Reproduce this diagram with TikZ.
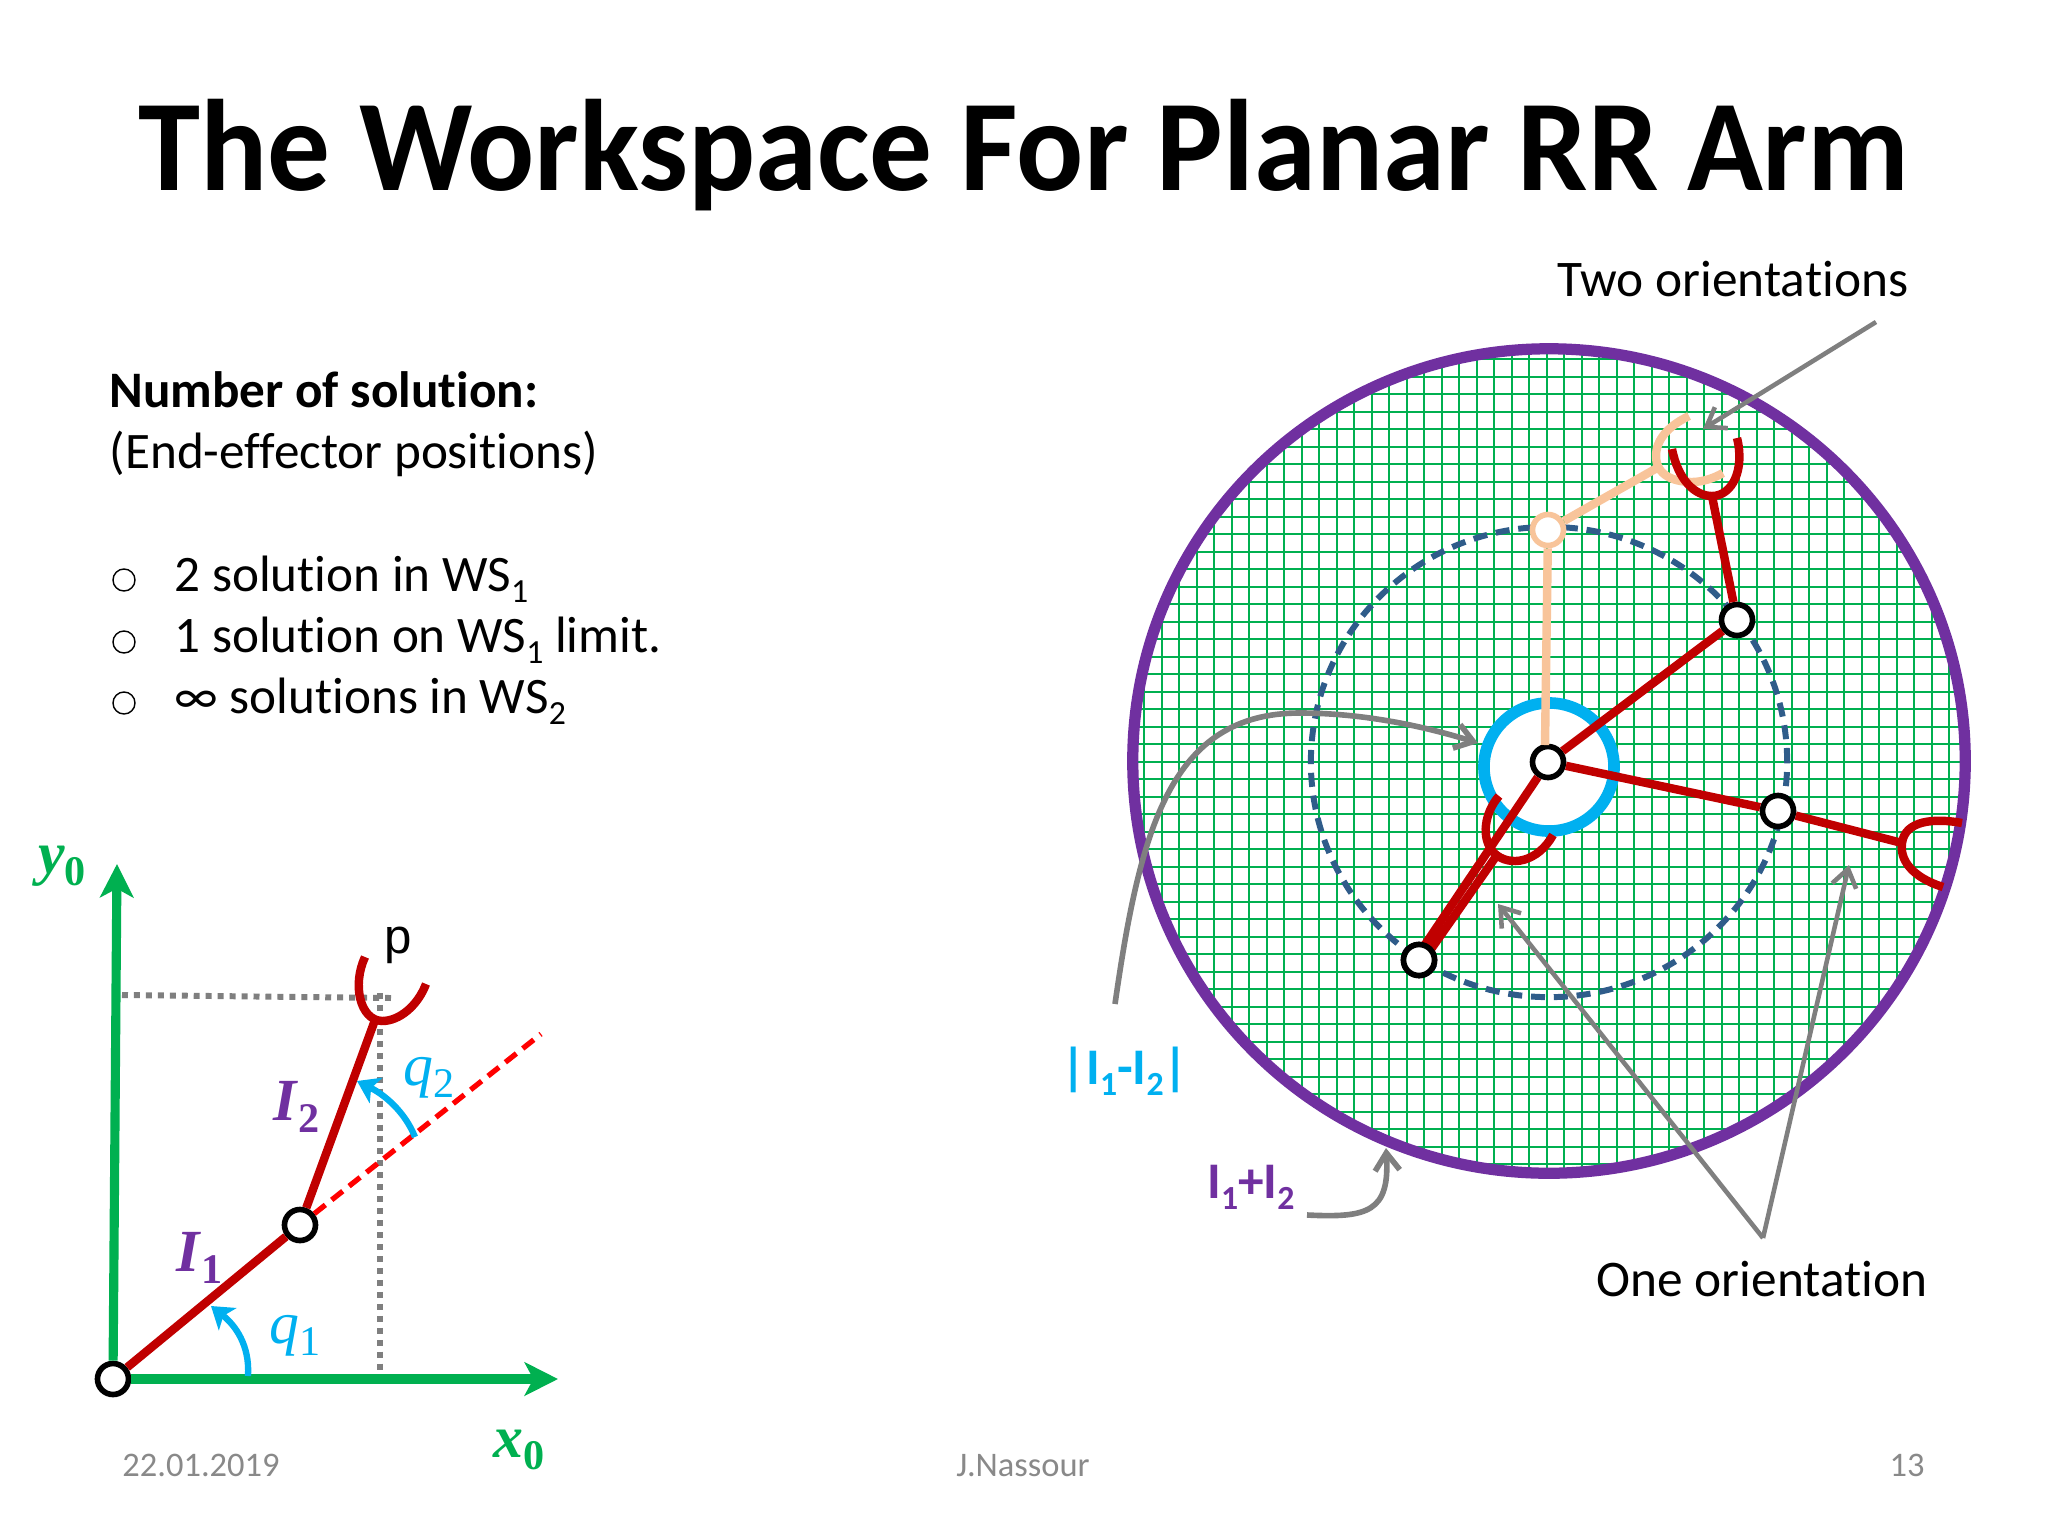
\documentclass[tikz,border=0pt]{standalone}
\usepackage{fontspec}
\setmainfont[Ligatures=NoCommon]{Carlito}
\newfontfamily\titlefont[Ligatures=NoCommon, FakeStretch=0.962]{Carlito}
\newfontfamily\symfont{Liberation Serif}
\newfontfamily\plainfont{Liberation Sans}
\usepackage{tikz}
\usetikzlibrary{arrows.meta}

\definecolor{armred}{HTML}{C00000}
\definecolor{armpeach}{HTML}{F8C49A}
\definecolor{axisgreen}{HTML}{00B050}
\definecolor{skyblue}{HTML}{00B0F0}
\definecolor{limitpurple}{HTML}{7030A0}
\definecolor{dashblue}{HTML}{2F5C8A}
\definecolor{notegray}{HTML}{7F7F7F}
\definecolor{footgray}{HTML}{898989}

\newcommand{\fsz}[1]{\fontsize{#1}{#1}\selectfont}
\newcommand{\lowsub}[1]{\raisebox{-3.4pt}{\fsz{9.6}#1}}
\newcommand{\labsub}[1]{\raisebox{-3.4pt}{\fsz{12}\upshape #1}}

\tikzset{
  joint/.style={draw=black, fill=white, circle, line width=1.6pt, inner sep=0pt, minimum size=3.1mm},
  link/.style={draw=armred, line width=2.4pt},
  peachlink/.style={draw=armpeach, line width=2.4pt},
  note/.style={draw=notegray, line width=1.3pt, -{Straight Barb[length=5pt,width=7pt]}},
  axis/.style={draw=axisgreen, line width=2.6pt, -{Stealth[length=9.5pt,width=9.5pt,inset=2.5pt]}},
  angle/.style={draw=skyblue, line width=1.8pt, -{Stealth[length=6pt,width=8pt,inset=1.5pt]}},
  body/.style={anchor=base west, inner sep=0pt, font=\fsz{14.55}},
  foot/.style={anchor=base, inner sep=0pt, text=footgray, font=\fsz{9.8}},
  bullet/.style={draw=black, circle, line width=0.4pt, inner sep=0pt, minimum size=2.2mm},
}

\begin{document}
\begin{tikzpicture}[x=0.01cm, y=-0.01cm]
\useasboundingbox (0,0) rectangle (2048,1536);

% title and text
\node[anchor=base, inner sep=0pt, font=\titlefont\fsz{37}\bfseries] (title) at (1024,190) {The Workspace For Planar RR Arm};
\node[body, font=\fsz{14.55}\bfseries] (head) at (109,407) {Number of solution:};
\node[body] (sub) at (109,468) {(End-effector positions)};
\node[bullet] (bulA) at (124,580) {};
\node[bullet] (bulB) at (124,642) {};
\node[bullet] (bulC) at (124,703) {};
\node[body] (solA) at (174,591) {2 solution in WS\lowsub{1}};
\node[body] (solB) at (174,652) {1 solution on WS\lowsub{1} limit.};
\node[body] (solC) at (174,713) {∞ solutions in WS\lowsub{2}};
\node[foot] (date) at (201,1476) {22.01.2019};
\node[foot] (name) at (1023,1476) {J.Nassour};
\node[foot] (page) at (1907,1476) {13};

% workspace
\begin{scope}
\clip (1549,761) ellipse (4.16cm and 4.12cm);
\foreach \k in {-16,...,31} \draw[axisgreen, line width=0.6pt] ({1424.3+17.5*\k},340) -- ({1424.3+17.5*\k},1185);
\foreach \k in {-18,...,30} \draw[axisgreen, line width=0.6pt] (1130,{656.7+17.5*\k}) -- (1970,{656.7+17.5*\k});
\end{scope}
\draw[dashblue, line width=1.7pt, dash pattern=on 4pt off 2.5pt] (1549,762) ellipse (2.38cm and 2.35cm);
\draw[skyblue, fill=white, line width=3.3pt] (1549,767) ellipse (0.65cm and 0.64cm);
\draw[limitpurple, line width=3.2pt] (1549,761) ellipse (4.16cm and 4.12cm);

% arm positions
\node[joint] (base) at (1548,762) {};
\node[joint] (elbowA) at (1737,620) {};
\node[joint] (elbowB) at (1778,811) {};
\node[joint] (elbowC) at (1419,960) {};
\node[joint, draw=armpeach] (elbowD) at (1548,530) {};
\coordinate (footD) at (1545,745);
\coordinate (gripA) at (1712,496);
\coordinate (gripB) at (1902,843);
\coordinate (gripC) at (1494,853);
\coordinate (gripD) at (1657,468);
\draw[peachlink] (footD) -- (elbowD);
\draw[peachlink] (elbowD) -- (gripD);
\draw[peachlink] (1689,416) .. controls (1668,426) and (1656,440) .. (1656,456) .. controls (1656,476) and (1675,482) .. (1692,482) .. controls (1703,482) and (1714,478) .. (1723,473);
\draw[link] (base) -- (elbowA);
\draw[link] (elbowA) -- (gripA);
\draw[link] (1672,449) .. controls (1678,480) and (1695,496) .. (gripA) .. controls (1732,496) and (1745,470) .. (1737,438);
\draw[link] (base) -- (elbowB);
\draw[link] (elbowB) -- (gripB);
\draw[link] (1962,823) .. controls (1935,818) and (1905,820) .. (gripB) .. controls (1899,865) and (1920,880) .. (1943,887);
\draw[link] (base) -- ([shift={(-3,-2)}]elbowC.center);
\draw[link] ([shift={(3,2)}]elbowC.center) -- ([shift={(3,2)}]gripC);
\draw[link] (1499,796) .. controls (1485,812) and (1480,838) .. (gripC) .. controls (1510,868) and (1538,862) .. (1553,835);
\node[joint] at (elbowC) {};

% notes
\node[anchor=center, inner sep=0pt, font=\fsz{14.6}] (two) at (1733,279) {Two orientations};
\node[anchor=center, inner sep=0pt, font=\fsz{14.6}] (one) at (1762,1279) {One orientation};
\node[anchor=base, inner sep=0pt, text=skyblue, font=\fsz{14.6}\bfseries] (diff) at (1125,1084) {|I\lowsub{1}-I\lowsub{2}|};
\node[anchor=base, inner sep=0pt, text=limitpurple, font=\fsz{14.6}\bfseries] (sum) at (1251,1198) {I\lowsub{1}+I\lowsub{2}};
\coordinate (twoTail) at (1876,322);
\coordinate (twoTip) at (1703,429);
\coordinate (oneTail) at (1763,1238);
\coordinate (oneTipA) at (1498,904);
\coordinate (oneTipB) at (1849,865);
\coordinate (diffTail) at (1115,1004);
\coordinate (diffTip) at (1478,743);
\coordinate (sumTail) at (1307,1215);
\coordinate (sumTip) at (1386,1148);
\draw[note] (twoTail) -- (twoTip);
\draw[note] (oneTail) -- (oneTipA);
\draw[note] (oneTail) -- (oneTipB);
\draw[note, line width=1.6pt] (diffTail) .. controls (1140,830) and (1170,713) .. (1300,713) .. controls (1360,713) and (1420,725) .. (diffTip);
\draw[note, line width=1.6pt] (sumTail) .. controls (1368,1218) and (1390,1212) .. (sumTip);

% small arm on axes
\node[joint] (origin) at (113,1379) {};
\node[joint] (elbow) at (300,1225) {};
\coordinate (xTip) at (558,1379);
\coordinate (yTip) at (117,864);
\coordinate (grip) at (375,1020);
\coordinate (ray) at (541,1034);
\draw[axis] (origin) -- (xTip);
\draw[axis] (origin) -- (yTip);
\draw[notegray, line width=1.7pt, dash pattern=on 1.7pt off 1.7pt] (122,995) -- (391,998);
\draw[notegray, line width=1.7pt, dash pattern=on 1.7pt off 1.7pt] (380,993) -- (380,1370);
\draw[red, line width=1.5pt, dash pattern=on 4pt off 2.3pt] (elbow) -- (ray);
\draw[link] (origin) -- (elbow);
\draw[link] (elbow) -- (grip);
\draw[link] (365,957) .. controls (352,985) and (360,1020) .. (382,1021) .. controls (400,1021) and (418,1005) .. (426,984);
\draw[angle] (248,1376) .. controls (250,1345) and (235,1325) .. (211,1306);
\draw[angle] (415,1137) .. controls (405,1112) and (385,1095) .. (357,1081);
\node[inner sep=0pt, text=skyblue, font=\symfont\fsz{17}\itshape] (qa) at (295,1336) {q\labsub{1}};
\node[inner sep=0pt, text=skyblue, font=\symfont\fsz{17}\itshape] (qb) at (429,1078) {q\labsub{2}};
\node[inner sep=0pt, text=limitpurple, font=\symfont\fsz{17}\bfseries] (la) at (200,1258) {\textit{I}\labsub{1}};
\node[inner sep=0pt, text=limitpurple, font=\symfont\fsz{17}\bfseries] (lb) at (297,1107) {\textit{I}\labsub{2}};
\node[inner sep=0pt, text=axisgreen, font=\symfont\fsz{17}\bfseries] (ya) at (62,866) {\textit{y}\labsub{0}};
\node[inner sep=0pt, text=axisgreen, font=\symfont\fsz{17}\bfseries] (xa) at (519,1450) {\textit{x}\labsub{0}};
\node[inner sep=0pt, font=\plainfont\fsz{14}] (p) at (398,945) {p};
\end{tikzpicture}
\end{document}
